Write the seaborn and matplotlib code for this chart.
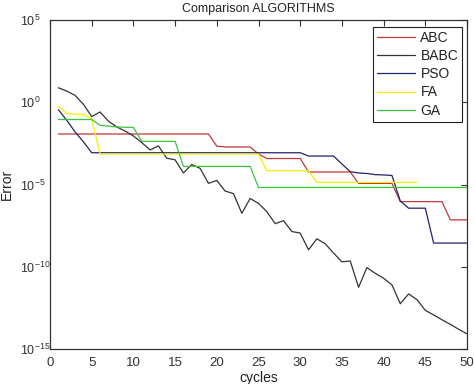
import pandas as pd # data handling
import seaborn as sns # line plots
from matplotlib import pyplot as plt # figure and axes

cycles = list(range(1, 51))

abc_log10 = [-1.93, -1.93, -1.93, -1.93, -1.93, -1.93, -1.93, -1.93, -1.93, -1.93,
             -1.93, -1.93, -1.93, -1.93, -1.93, -1.93, -1.93, -1.93, -1.93, -2.67,
             -2.72, -2.72, -2.72, -2.72, -3.15, -3.42, -3.42, -3.42, -3.42, -3.42,
             -4.24, -4.24, -4.24, -4.24, -4.24, -4.24, -4.93, -4.93, -4.93, -4.93,
             -4.93, -6.04, -6.04, -6.04, -6.04, -6.04, -6.04, -7.15, -7.15, -7.15]

babc_log10 = [0.88, 0.68, 0.42, -0.12, -0.87, -0.59, -1.15, -1.5, -1.75, -2.05,
              -2.45, -2.9, -2.65, -3.4, -3.5, -4.3, -3.78, -4.02, -4.93, -4.75,
              -5.4, -5.55, -6.75, -5.85, -6.15, -6.65, -7.38, -7.2, -7.86, -7.95,
              -8.97, -8.3, -8.6, -9.17, -9.7, -9.65, -11.25, -10.05, -10.4, -10.7,
              -11.1, -12.25, -11.65, -12.0, -12.65, -12.93, -13.22, -13.5, -13.8, -14.08]

pso_log10 = [-0.45, -1.09, -1.8, -2.4, -3.07, -3.07, -3.07, -3.07, -3.07, -3.07,
             -3.07, -3.07, -3.07, -3.07, -3.07, -3.07, -3.07, -3.07, -3.07, -3.07,
             -3.07, -3.07, -3.07, -3.07, -3.07, -3.07, -3.07, -3.07, -3.07, -3.07,
             -3.27, -3.27, -3.27, -3.27, -3.75, -4.22, -4.3, -4.33, -4.4, -4.42,
             -4.45, -6.0, -6.44, -6.44, -6.44, -8.56, -8.56, -8.56, -8.56, -8.56]

# FA stops at cycle 44
fa_log10 = [-0.24, -0.69, -0.72, -0.75, -1.0, -3.15, -3.15, -3.15, -3.15, -3.15,
            -3.15, -3.15, -3.15, -3.15, -3.15, -3.15, -3.15, -3.15, -3.15, -3.15,
            -3.15, -3.15, -3.15, -3.15, -3.15, -4.16, -4.16, -4.16, -4.16, -4.16,
            -4.16, -4.87, -4.87, -4.87, -4.87, -4.87, -4.87, -4.87, -4.87, -4.87,
            -4.87, -4.87, -4.87, -4.87]

ga_log10 = [-1.05, -1.05, -1.05, -1.05, -1.05, -1.4, -1.45, -1.5, -1.52, -1.53,
            -2.38, -2.38, -2.38, -2.38, -2.38, -3.9, -3.9, -3.9, -3.9, -3.9,
            -3.9, -3.9, -3.9, -3.9, -5.18, -5.18, -5.18, -5.18, -5.18, -5.18,
            -5.18, -5.18, -5.18, -5.18, -5.18, -5.18, -5.18, -5.18, -5.18, -5.18,
            -5.18, -5.18, -5.18, -5.18, -5.18, -5.18, -5.18, -5.18, -5.18, -5.18]

algorithms = ["ABC", "BABC", "PSO", "FA", "GA"]
colors = ["#c03838", "#333333", "#22226e", "#f2f200", "#3cc43c"]
series = [abc_log10, babc_log10, pso_log10, fa_log10, ga_log10]

# long table for seaborn
rows = []
for name, vals in zip(algorithms, series):
    for c, v in zip(cycles, vals):
        rows.append({"algorithm": name, "cycle": c, "error": 10.0 ** v})
df = pd.DataFrame(rows)

sns.set_style("white")
plt.rcParams['font.family'] = ['Liberation Sans', 'DejaVu Sans']
plt.rcParams['mathtext.fontset'] = 'custom'
plt.rcParams['mathtext.rm'] = 'Liberation Sans'
plt.rcParams['mathtext.it'] = 'Liberation Sans:italic'
plt.rcParams['mathtext.bf'] = 'Liberation Sans:bold'

W, H = 474, 384
fig = plt.figure(figsize=(W / 100, H / 100), dpi=100)
ax = fig.add_axes([50 / W, 1 - 349 / H, (467 - 50) / W, (349 - 20) / H])

sns.lineplot(data=df, x="cycle", y="error", hue="algorithm", hue_order=algorithms,
             palette=colors, linewidth=0.9, ax=ax, estimator=None)

ax.set_yscale("log")
ax.set_xlim(0, 50)
ax.set_ylim(1e-15, 1e5)
ax.set_xticks(range(0, 51, 5))
ax.set_yticks([1e-15, 1e-10, 1e-5, 1e0, 1e5])
ax.set_yticklabels(["$10^{-15}$", "$10^{-10}$", "$10^{-5}$", "$10^{0}$", "$10^{5}$"])
ax.minorticks_off()
ax.tick_params(direction="in", length=4, width=0.8, colors="#333333",
               labelsize=9.5, top=True, right=True)
ax.tick_params(axis="x", pad=5.5)
ax.tick_params(axis="y", pad=21.5, labelsize=9)
for lab in ax.get_yticklabels():
    lab.set_horizontalalignment("left")
for s in ax.spines.values():
    s.set_color("#333333")
    s.set_linewidth(0.9)

ax.set_title("Comparison ALGORITHMS", fontsize=9, color="#222222", pad=6)
ax.set_xlabel("cycles", fontsize=10, color="#222222")
ax.set_ylabel("Error", fontsize=10, color="#222222")
ax.xaxis.set_label_coords(0.5, -22 / 329)
ax.yaxis.set_label_coords(-36 / 417, 0.5)

handles, labels = ax.get_legend_handles_labels()
leg = ax.legend(handles, labels, loc="upper right",
                bbox_to_anchor=(1 - 4.7 / 417, 1 - 6.7 / 329), borderaxespad=0,
                fontsize=10, frameon=True, fancybox=False, framealpha=1,
                edgecolor="#222222", handlelength=2.7, handletextpad=0.4,
                labelspacing=0.3, borderpad=0.3)
leg.get_frame().set_linewidth(0.8)
for t in leg.get_texts():
    t.set_color("#222222")

fig.savefig("out.png", dpi=100)
